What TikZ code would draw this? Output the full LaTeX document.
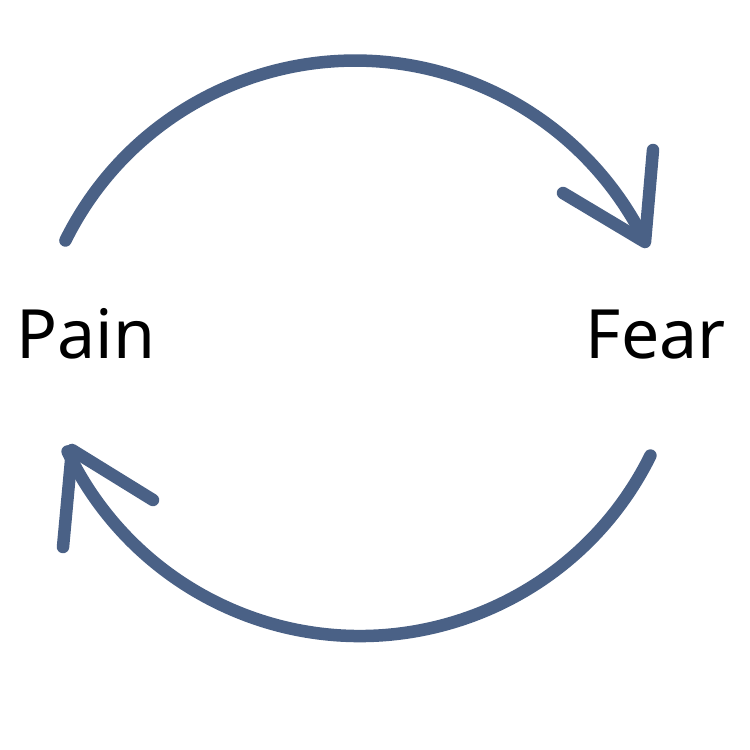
\documentclass[tikz,border=0pt]{standalone}
\usepackage{fontspec}
\setmainfont{Noto Sans}
\usetikzlibrary{calc}
\definecolor{arcblue}{HTML}{4A6186}
\begin{document}
\begin{tikzpicture}[x=1pt,y=-1pt,
  cyc/.style={draw=arcblue,line width=12.5pt,line cap=round,line join=round},
  lbl/.style={inner sep=0pt,font=\fontsize{68}{72}\selectfont,text=black}]
\useasboundingbox (0,0) rectangle (750,750);
\fill[white] (0,0) rectangle (750,750);
% upper arc
\coordinate (uc) at (355,383.6);
\coordinate (us) at ($(uc)+(-153.7:323)$);
\coordinate (ut) at (645,242);
\coordinate (ub1) at (653,150);
\coordinate (ub2) at (563,193);
\draw[cyc] (us) arc[start angle=-153.7, end angle=-26.5, radius=323];
\draw[cyc] (ub1) -- (ut) -- (ub2);
% lower arc
\coordinate (lc) at (360,312);
\coordinate (ls) at ($(lc)+(26.3:324)$);
\coordinate (lt) at (72,450);
\coordinate (lb1) at (63,547);
\coordinate (lb2) at (153,500);
\draw[cyc] (ls) arc[start angle=26.3, end angle=154.5, radius=324];
\draw[cyc] (lb1) -- (lt) -- (lb2);
% labels
\node[lbl,anchor=base west] (pain) at (16,358) {Pain};
\node[lbl,anchor=base east] (fear) at (726,358) {Fear};
\end{tikzpicture}
\end{document}
